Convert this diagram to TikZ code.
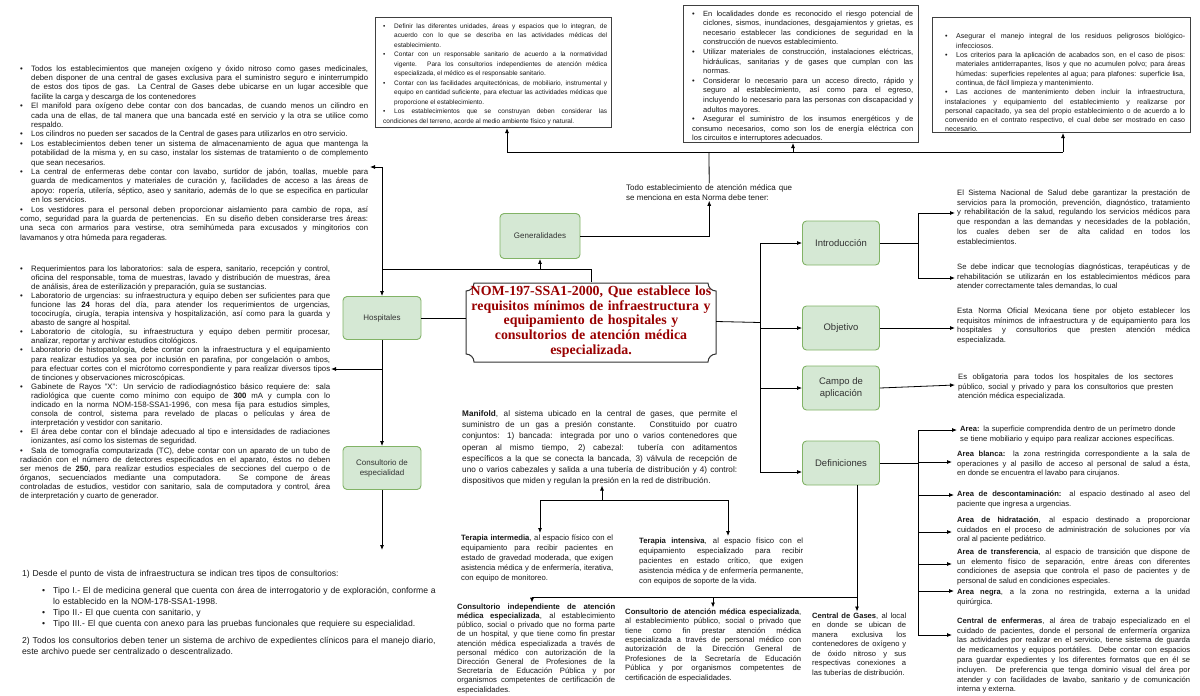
\documentclass[tikz,border=0pt]{standalone}
\usepackage{fontspec}
\setmainfont{Liberation Sans}
\newfontfamily\titlefont{Liberation Serif}
\usetikzlibrary{arrows.meta}
\definecolor{gfill}{HTML}{D5E8D4}
\definecolor{gdraw}{HTML}{82B366}
\definecolor{tred}{HTML}{990000}
\hyphenpenalty=10000
\exhyphenpenalty=10000
\tolerance=10000
\hbadness=10000
\newcommand\bitem[1]{\par\hangindent=11pt\hangafter=1\noindent\hbox to 11pt{\textbullet\hfil}\strut#1}
\newcommand\nl{\linebreak}
\newcommand\fs[2]{\fontsize{#1}{#2}\selectfont}
\tikzset{
  gbox/.style={rectangle, rounded corners=4pt, fill=gfill, draw=gdraw, line width=0.9pt, align=center, text=black!80, inner sep=2pt, font=\fs{8}{10}},
  gboxb/.style={gbox, minimum width=77, minimum height=44, font=\fs{9.5}{12}},
  txtb/.style={anchor=north west, inner sep=0pt, align=justify, text=black!90},
  txt/.style={txtb, execute at begin node=\strut},
  fbox/.style={draw=black!75, line width=1pt, inner sep=0pt, anchor=north west},
  conn/.style={-{Latex[length=5pt,width=4pt]}, line width=0.8pt},
  ln/.style={line width=0.8pt}
}
\begin{document}
\begin{tikzpicture}[x=1pt,y=-1pt]
\useasboundingbox (0,0) rectangle (1200,696);
\fill[white] (0,0) rectangle (1200,696);

% ---------- top frames ----------
\node[fbox, minimum width=236, minimum height=110] (boxA) at (375,17) {};
\node[fbox, minimum width=235, minimum height=137] (boxB) at (683,5) {};
\node[fbox, minimum width=258, minimum height=115] (boxC) at (932,17) {};

\node[txtb, text width=224, font=\fs{6.5}{9.5}] (ta) at (383,18.5) {%
\bitem{Definir las diferentes unidades, áreas y espacios que lo integran, de\nl acuerdo con lo que se describa en las actividades médicas del\nl establecimiento.}
\bitem{Contar con un responsable sanitario de acuerdo a la normatividad\nl vigente. Para los consultorios independientes de atención médica\nl especializada, el médico es el responsable sanitario.}
\bitem{Contar con las facilidades arquitectónicas, de mobiliario, instrumental y\nl equipo en cantidad suficiente, para efectuar las actividades médicas que\nl proporcione el establecimiento.}
\bitem{Los establecimientos que se construyan deben considerar las\nl condiciones del terreno, acorde al medio ambiente físico y natural.}};

\node[txtb, text width=221, font=\fs{7.5}{9.6}] (tb) at (692,6.4) {%
\bitem{En localidades donde es reconocido el riesgo potencial de\nl ciclones, sismos, inundaciones, desgajamientos y grietas, es\nl necesario establecer las condiciones de seguridad en la\nl construcción de nuevos establecimiento.}
\bitem{Utilizar materiales de construcción, instalaciones eléctricas,\nl hidráulicas, sanitarias y de gases que cumplan con las\nl normas.}
\bitem{Considerar lo necesario para un acceso directo, rápido y\nl seguro al establecimiento, así como para el egreso,\nl incluyendo lo necesario para las personas con discapacidad y\nl adultos mayores.}
\bitem{Asegurar el suministro de los insumos energéticos y de\nl consumo necesarios, como son los de energía eléctrica con\nl los circuitos e interruptores adecuados.}};

\node[txtb, text width=240, font=\fs{7.1}{9.3}] (tc) at (945,29.5) {%
\bitem{Asegurar el manejo integral de los residuos peligrosos biológico-\nl infecciosos.}
\bitem{Los criterios para la aplicación de acabados son, en el caso de pisos:\nl materiales antiderrapantes, lisos y que no acumulen polvo; para áreas\nl húmedas: superficies repelentes al agua; para plafones: superficie lisa,\nl continua, de fácil limpieza y mantenimiento.}
\bitem{Las acciones de mantenimiento deben incluir la infraestructura,\nl instalaciones y equipamiento del establecimiento y realizarse por\nl personal capacitado, ya sea del propio establecimiento o de acuerdo a lo\nl convenido en el contrato respectivo, el cual debe ser mostrado en caso\nl necesario.}};

% ---------- left texts ----------
\node[txtb, text width=348, font=\fs{7.8}{9.4}] (tl) at (20,61.5) {%
\bitem{Todos los establecimientos que manejen oxígeno y óxido nitroso como gases medicinales,\nl deben disponer de una central de gases exclusiva para el suministro seguro e ininterrumpido\nl de estos dos tipos de gas. La Central de Gases debe ubicarse en un lugar accesible que\nl facilite la carga y descarga de los contenedores}
\bitem{El manifold para oxígeno debe contar con dos bancadas, de cuando menos un cilindro en\nl cada una de ellas, de tal manera que una bancada esté en servicio y la otra se utilice como\nl respaldo.}
\bitem{Los cilindros no pueden ser sacados de la Central de gases para utilizarlos en otro servicio.}
\bitem{Los establecimientos deben tener un sistema de almacenamiento de agua que mantenga la\nl potabilidad de la misma y, en su caso, instalar los sistemas de tratamiento o de complemento\nl que sean necesarios.}
\bitem{La central de enfermeras debe contar con lavabo, surtidor de jabón, toallas, mueble para\nl guarda de medicamentos y materiales de curación y, facilidades de acceso a las áreas de\nl apoyo: ropería, utilería, séptico, aseo y sanitario, además de lo que se especifica en particular\nl en los servicios.}
\bitem{Los vestidores para el personal deben proporcionar aislamiento para cambio de ropa, así\nl como, seguridad para la guarda de pertenencias. En su diseño deben considerarse tres áreas:\nl una seca con armarios para vestirse, otra semihúmeda para excusados y mingitorios con\nl lavamanos y otra húmeda para regaderas.}};

\node[txtb, text width=310, font=\fs{7.8}{9.1}] (lm) at (20,261.7) {%
\bitem{Requerimientos para los laboratorios: sala de espera, sanitario, recepción y control,\nl oficina del responsable, toma de muestras, lavado y distribución de muestras, área\nl de análisis, área de esterilización y preparación, guía se sustancias.}
\bitem{Laboratorio de urgencias: su infraestructura y equipo deben ser suficientes para que\nl funcione las \textbf{24} horas del día, para atender los requerimientos de urgencias,\nl tococirugía, cirugía, terapia intensiva y hospitalización, así como para la guarda y\nl abasto de sangre al hospital.}
\bitem{Laboratorio de citología, su infraestructura y equipo deben permitir procesar,\nl analizar, reportar y archivar estudios citológicos.}
\bitem{Laboratorio de histopatología, debe contar con la infraestructura y el equipamiento\nl para realizar estudios ya sea por inclusión en parafina, por congelación o ambos,\nl para efectuar cortes con el micrótomo correspondiente y para realizar diversos tipos\nl de tinciones y observaciones microscópicas.}
\bitem{Gabinete de Rayos "X": Un servicio de radiodiagnóstico básico requiere de: sala\nl radiológica que cuente como mínimo con equipo de \textbf{300} mA y cumpla con lo\nl indicado en la norma NOM-158-SSA1-1996, con mesa fija para estudios simples,\nl consola de control, sistema para revelado de placas o películas y área de\nl interpretación y vestidor con sanitario.}
\bitem{El área debe contar con el blindaje adecuado al tipo e intensidades de radiaciones\nl ionizantes, así como los sistemas de seguridad.}
\bitem{Sala de tomografía computarizada (TC), debe contar con un aparato de un tubo de\nl radiación con el número de detectores especificados en el aparato, éstos no deben\nl ser menos de \textbf{250}, para realizar estudios especiales de secciones del cuerpo o de\nl órganos, secuenciados mediante una computadora. Se compone de áreas\nl controladas de estudios, vestidor con sanitario, sala de computadora y control, área\nl de interpretación y cuarto de generador.}};

\node[txtb, text width=440, align=left, font=\fs{8.6}{11}] (bl) at (22,568.6) {%
\strut 1) Desde el punto de vista de infraestructura se indican tres tipos de consultorios:\par\vspace{6pt}
\leftskip=20pt
\bitem{Tipo I.- El de medicina general que cuenta con área de interrogatorio y de exploración, conforme a\newline lo establecido en la NOM-178-SSA1-1998.}
\bitem{Tipo II.- El que cuenta con sanitario, y}
\bitem{Tipo III.- El que cuenta con anexo para las pruebas funcionales que requiere su especialidad.}\par\vspace{6pt}
\leftskip=0pt
\noindent 2) Todos los consultorios deben tener un sistema de archivo de expedientes clínicos para el manejo diario,\newline este archivo puede ser centralizado o descentralizado.};

% ---------- green boxes ----------
\node[gbox, minimum width=80, minimum height=45] (gen) at (540,236) {Generalidades};
\node[gbox, minimum width=78, minimum height=43] (hosp) at (382,318) {Hospitales};
\node[gbox, minimum width=78, minimum height=43] (cons) at (382,468) {Consultorio de\\especialidad};
\node[gboxb] (intro) at (841,243) {Introducción};
\node[gboxb] (obj) at (841,328) {Objetivo};
\node[gboxb] (campo) at (841,388) {Campo de\\aplicación};
\node[gboxb] (defi) at (841,463) {Definiciones};

% ---------- title ----------
\draw[line width=1pt, draw=black!80] (474,283) -- (708,283) .. controls (708,287.4) and (711.6,291) .. (716,291) -- (716,354) .. controls (711.6,354) and (708,357.6) .. (708,362) -- (474,362) .. controls (474,357.6) and (470.4,354) .. (466,354) -- (466,291) .. controls (470.4,291) and (474,287.4) .. (474,283) -- cycle;
\node[font=\titlefont\bfseries\fs{13.9}{14.6}, text=tred, align=center, text width=250, inner sep=0pt, minimum height=79] (title) at (591,321.5) {NOM-197-SSA1-2000, Que establece los\\ requisitos mínimos de infraestructura y\\ equipamiento de hospitales y\\ consultorios de atención médica\\ especializada.};

% ---------- middle texts ----------
\node[txt, text width=166, font=\fs{8}{10}] (todo) at (626,183.3) {Todo establecimiento de atención médica que\nl se menciona en esta Norma debe tener:};

\node[txt, text width=275, font=\fs{8.2}{11.2}] (mani) at (462,408.4) {\textbf{Manifold}, al sistema ubicado en la central de gases, que permite el\nl suministro de un gas a presión constante. Constituido por cuatro\nl conjuntos: 1) bancada: integrada por uno o varios contenedores que\nl operan al mismo tiempo, 2) cabezal: tubería con aditamentos\nl específicos a la que se conecta la bancada, 3) válvula de recepción de\nl uno o varios cabezales y salida a una tubería de distribución y 4) control:\nl dispositivos que miden y regulan la presión en la red de distribución.};

\node[txt, text width=152, font=\fs{7.7}{10}] (tint) at (461,533) {\textbf{Terapia intermedia}, al espacio físico con el\nl equipamiento para recibir pacientes en\nl estado de gravedad moderada, que exigen\nl asistencia médica y de enfermería, iterativa,\nl con equipo de monitoreo.};
\node[txt, text width=164, font=\fs{7.7}{10}] (tinv) at (639,536) {\textbf{Terapia intensiva}, al espacio físico con el\nl equipamiento especializado para recibir\nl pacientes en estado crítico, que exigen\nl asistencia médica y de enfermería permanente,\nl con equipos de soporte de la vida.};

\node[txt, text width=158, font=\fs{7.7}{9.2}] (cind) at (457,602.7) {\textbf{Consultorio independiente de atención}\nl \textbf{médica especializada}, al establecimiento\nl público, social o privado que no forma parte\nl de un hospital, y que tiene como fin prestar\nl atención médica especializada a través de\nl personal médico con autorización de la\nl Dirección General de Profesiones de la\nl Secretaría de Educación Pública y por\nl organismos competentes de certificación de\nl especialidades.};
\node[txt, text width=176, font=\fs{7.7}{9.4}] (caten) at (625,607.5) {\textbf{Consultorio de atención médica especializada},\nl al establecimiento público, social o privado que\nl tiene como fin prestar atención médica\nl especializada a través de personal médico con\nl autorización de la Dirección General de\nl Profesiones de la Secretaría de Educación\nl Pública y por organismos competentes de\nl certificación de especialidades.};
\node[txt, text width=94, font=\fs{7.6}{9.5}] (cgas) at (812,611.5) {\textbf{Central de Gases}, al local\nl en donde se ubican de\nl manera exclusiva los\nl contenedores de oxígeno y\nl de óxido nitroso y sus\nl respectivas conexiones a\nl las tuberías de distribución.};

% ---------- right texts ----------
\node[txt, text width=233, font=\fs{7.7}{9.8}] (in1) at (957,188.2) {El Sistema Nacional de Salud debe garantizar la prestación de\nl servicios para la promoción, prevención, diagnóstico, tratamiento\nl y rehabilitación de la salud, regulando los servicios médicos para\nl que respondan a las demandas y necesidades de la población,\nl los cuales deben ser de alta calidad en todos los\nl establecimientos.};
\node[txt, text width=233, font=\fs{7.7}{9.8}] (in2) at (957,262.2) {Se debe indicar que tecnologías diagnósticas, terapéuticas y de\nl rehabilitación se utilizarán en los establecimientos médicos para\nl atender correctamente tales demandas, lo cual};
\node[txt, text width=233, font=\fs{7.7}{9.8}] (ob1) at (957,306.2) {Esta Norma Oficial Mexicana tiene por objeto establecer los\nl requisitos mínimos de infraestructura y de equipamiento para los\nl hospitales y consultorios que presten atención médica\nl especializada.};
\node[txt, text width=215, font=\fs{7.7}{9.8}] (ca1) at (958,372.2) {Es obligatoria para todos los hospitales de los sectores\nl público, social y privado y para los consultorios que presten\nl atención médica especializada.};

\node[txt, text width=230, align=left, font=\fs{7.6}{9.8}] (d1) at (960,424.2) {\textbf{Area:} la superficie comprendida dentro de un perímetro donde\newline se tiene mobiliario y equipo para realizar acciones específicas.};
\node[txt, text width=233, font=\fs{7.6}{9.8}] (d2) at (957,449.2) {\textbf{Area blanca:} la zona restringida correspondiente a la sala de\nl operaciones y al pasillo de acceso al personal de salud a ésta,\nl en donde se encuentra el lavabo para cirujanos.};
\node[txt, text width=233, font=\fs{7.6}{9.8}] (d3) at (957,489.2) {\textbf{Area de descontaminación:} al espacio destinado al aseo del\nl paciente que ingresa a urgencias.};
\node[txt, text width=233, font=\fs{7.6}{9.8}] (d4) at (957,515.2) {\textbf{Area de hidratación}, al espacio destinado a proporcionar\nl cuidados en el proceso de administración de soluciones por vía\nl oral al paciente pediátrico.};
\node[txt, text width=233, font=\fs{7.6}{9.8}] (d5) at (957,547.2) {\textbf{Area de transferencia}, al espacio de transición que dispone de\nl un elemento físico de separación, entre áreas con diferentes\nl condiciones de asepsia que controla el paso de pacientes y de\nl personal de salud en condiciones especiales.};
\node[txt, text width=233, font=\fs{7.6}{9.8}] (d6) at (957,587.2) {\textbf{Area negra}, a la zona no restringida, externa a la unidad\nl quirúrgica.};
\node[txt, text width=233, font=\fs{7.6}{9.8}] (d7) at (957,616.2) {\textbf{Central de enfermeras}, al área de trabajo especializado en el\nl cuidado de pacientes, donde el personal de enfermería organiza\nl las actividades por realizar en el servicio, tiene sistema de guarda\nl de medicamentos y equipos portátiles. Debe contar con espacios\nl para guardar expedientes y los diferentes formatos que en él se\nl incluyen. De preferencia que tenga dominio visual del área por\nl atender y con facilidades de lavabo, sanitario y de comunicación\nl interna y externa.};

% ---------- coordinates ----------
\coordinate (jt) at (591,269);
\coordinate (jl) at (382,269);
\coordinate (jg) at (540,269);
\coordinate (tlin) at (370,167);
\coordinate (jh) at (382,369);
\coordinate (lmin) at (331,369);
\coordinate (blin) at (382,550);
\coordinate (jtop) at (709,152);
\coordinate (xa) at (507,152);
\coordinate (xb) at (793,152);
\coordinate (xc) at (1063,152);
\coordinate (jr) at (760,322.5);
\coordinate (ji) at (918,243);
\coordinate (i1) at (955,213);
\coordinate (i2) at (955,278);
\coordinate (oin) at (955,328);
\coordinate (cin) at (955,385);
\coordinate (jd) at (918,463);
\coordinate (a1) at (957,430);
\coordinate (a2) at (952,462);
\coordinate (a3) at (954,495);
\coordinate (a4) at (952,532);
\coordinate (a5) at (952,564);
\coordinate (a6) at (954,591);
\coordinate (a7) at (952,635);
\coordinate (mj1) at (540,500);
\coordinate (mj2) at (728,500);
\coordinate (mup) at (602,500);
\coordinate (bj1) at (532,597);
\coordinate (bj2) at (713,597);
\coordinate (bj3) at (857,597);

% ---------- connectors ----------
\draw[ln] (title.north -| jt) -- (jt);
\draw[ln] (jl) -- (jt);
\draw[conn] (jl) -- (hosp.north);
\draw[conn] (jg) -- (gen.south);
\draw[conn] (jl) |- (tlin);
\draw[ln] (hosp.east) -- (hosp.east -| title.west);
\draw[conn] (hosp.south) -- (cons.north);
\draw[conn] (jh) -- (lmin);
\draw[conn] (cons.south) -- (blin);

\draw[conn] (gen.east) -| (todo.south);
\draw[ln] (todo.north) -- (jtop);
\draw[ln] (xa) -- (xc);
\draw[conn] (xa) -- (xa |- boxA.south);
\draw[conn] (xb) -- (xb |- boxB.south);
\draw[conn] (xc) -- (xc |- boxC.south);

\draw[ln] (title.east) -- (jr);
\draw[ln] (jr |- intro.west) -- ([yshift=-9pt]jr |- defi.west);
\draw[conn] (jr |- intro.west) -- (intro.west);
\draw[conn] (jr |- obj.west) -- (obj.west);
\draw[conn] (jr |- campo.west) -- (campo.west);
\draw[conn] ([yshift=-9pt]jr |- defi.west) -- ([yshift=-9pt]defi.west);

\draw[ln] (intro.east) -- (ji);
\draw[ln] (ji |- i1) -- (ji |- i2);
\draw[conn] (ji |- i1) -- (i1);
\draw[conn] (ji |- i2) -- (i2);
\draw[conn] (obj.east) -- (oin);
\draw[conn] (campo.east) -- (cin);

\draw[ln] (defi.east) -- (jd);
\draw[ln] (jd |- a1) -- (jd |- a7);
\foreach \k in {a1,a2,a3,a4,a5,a6,a7} \draw[conn] (jd |- \k) -- (\k);

\draw[ln] (mj1) -- (mj2);
\draw[conn] (mup) -- (mup |- mani.south);
\draw[conn] (mj1) -- (mj1 |- tint.north);
\draw[conn] (mj2) -- (mj2 |- tinv.north);

\draw[ln] (defi.south -| bj3) -- (bj3);
\draw[ln] (bj1) -- (bj3);
\draw[conn] (bj1) -- (bj1 |- cind.north);
\draw[conn] (bj2) -- (bj2 |- caten.north);
\draw[conn] (bj3) -- (bj3 |- cgas.north);
\end{tikzpicture}
\end{document}
